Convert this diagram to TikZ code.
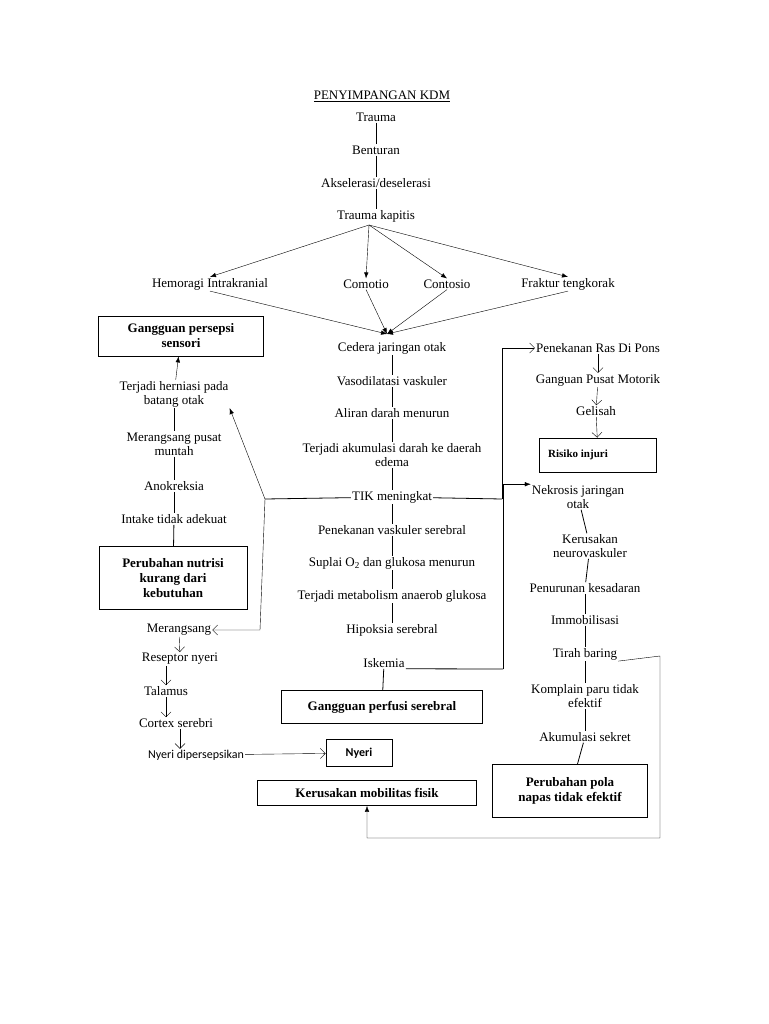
\documentclass[tikz,border=0pt]{standalone}
\usepackage{fontspec}
\setmainfont{Liberation Serif}
\newfontfamily\sansf{Carlito}
\usetikzlibrary{arrows.meta,positioning}
\tikzset{
  txt/.style={font=\fontsize{13}{14}\selectfont, inner sep=1pt, align=center},
  box/.style={draw, thick, font=\bfseries\fontsize{13}{15}\selectfont, align=center, inner sep=2pt},
  ln/.style={thick},
  ar/.style={-{Straight Barb[length=5pt]}},
  fa/.style={-{Latex[length=6pt]}}
}
\begin{document}
\begin{tikzpicture}[x=1pt, y=-1pt]
    \useasboundingbox (0,0) rectangle (768,1024);
    \node[txt] (title) at (382,96) {\underline{PENYIMPANGAN KDM}};
    % top chain
    \node[txt] (trauma) at (376,117) {Trauma};
    \node[txt] (bentur) at (376,150) {Benturan};
    \node[txt] (aksel) at (376,183) {Akselerasi/deselerasi};
    \node[txt] (kapitis) at (376,216) {Trauma kapitis};
    \draw[ln] (trauma) -- (bentur);
    \draw[ln] (bentur) -- (aksel);
    \draw[ln] (aksel) -- (kapitis);
    \node[txt] (hemo) at (210,284) {Hemoragi Intrakranial};
    \node[txt] (comotio) at (366,284) {Comotio};
    \node[txt] (contosio) at (447,284) {Contosio};
    \node[txt] (fraktur) at (568,284) {Fraktur tengkorak};
    \coordinate (split) at (369,225);
    \draw[fa] (split) -- (hemo.north);
    \draw[fa] (split) -- (comotio.north);
    \draw[fa] (split) -- (contosio.north);
    \draw[fa] (split) -- (fraktur.north);
    \coordinate (merge) at (387,334);
    \draw[fa] (hemo.south) -- (merge);
    \draw[fa] (comotio.south) -- (merge);
    \draw[fa] (contosio.south) -- (merge);
    \draw[fa] (fraktur.south) -- (merge);
    % middle column
    \node[txt] (cedera) at (392,348) {Cedera jaringan otak};
    \node[txt] (vaso) at (392,381) {Vasodilatasi vaskuler};
    \node[txt] (aliran) at (392,413) {Aliran darah menurun};
    \node[txt] (akum) at (392,455) {Terjadi akumulasi darah ke daerah\\edema};
    \node[txt] (tik) at (392,497) {TIK meningkat};
    \node[txt] (penvask) at (392,530) {Penekanan vaskuler serebral};
    \node[txt] (suplai) at (392,563) {Suplai O\textsubscript{2} dan glukosa menurun};
    \node[txt] (metab) at (392,596) {Terjadi metabolism anaerob glukosa};
    \node[txt] (hipoksia) at (392,630) {Hipoksia serebral};
    \node[txt] (iskemia) at (384,663) {Iskemia};
    \node[box, minimum width=201pt, minimum height=33pt] (perfusi) at (382,707) {Gangguan perfusi serebral};
    \draw[ln] (cedera) -- (vaso);
    \draw[ln] (vaso) -- (aliran);
    \draw[ln] (aliran) -- (akum);
    \draw[ln] (akum) -- (tik);
    \draw[ln] (tik) -- (penvask);
    \draw[ln] (penvask) -- (suplai);
    \draw[ln] (suplai) -- (metab);
    \draw[ln] (metab) -- (hipoksia);
    \draw[ln] (iskemia) -- (perfusi);
    % left column
    \node[box, minimum width=165pt, minimum height=40pt] (persepsi) at (181,336) {Gangguan persepsi\\sensori};
    \node[txt] (hernia) at (174,394) {Terjadi herniasi pada\\batang otak};
    \node[txt] (muntah) at (174,444) {Merangsang pusat\\muntah};
    \node[txt] (anok) at (174,486) {Anokreksia};
    \node[txt] (intake) at (174,519) {Intake tidak adekuat};
    \node[box, minimum width=148pt, minimum height=63pt] (nutrisi) at (173,578) {Perubahan nutrisi\\kurang dari\\kebutuhan};
    \draw[fa] (hernia) -- (persepsi);
    \draw[ln] (hernia) -- (muntah);
    \draw[ln] (muntah) -- (anok);
    \draw[ln] (anok) -- (intake);
    \draw[ln] (intake) -- (nutrisi);
    \node[txt] (rangsang) at (179,630) {Merangsang};
    \node[txt] (reseptor) at (180,659) {Reseptor nyeri};
    \node[txt] (talamus) at (166,691) {Talamus};
    \node[txt] (cortex) at (176,723) {Cortex serebri};
    \node[txt, font=\sansf\fontsize{12}{14}\selectfont] (dipers) at (196,755) {Nyeri dipersepsikan};
    \node[box, font=\sansf\bfseries\fontsize{12}{14}\selectfont, minimum width=66pt, minimum height=27pt] (nyeri) at (359,753) {Nyeri};
    \node[box, minimum width=219pt, minimum height=25pt] (mobil) at (367,793) {Kerusakan mobilitas fisik};
    \draw[ar] (rangsang) -- (reseptor);
    \draw[ar] (reseptor.south -| talamus) -- (talamus);
    \draw[ar] (talamus.south) -- (cortex.north -| talamus.south);
    \draw[ar] (cortex.south -| dipers.north) ++(-16,0) -- ++(0,20);
    \draw[ar] (dipers) -- (nyeri);
    % TIK branches
    \coordinate (tikl) at (265,499);
    \coordinate (tikr) at (502,499);
    \draw[ln] (tik) -- (tikl);
    \draw[fa] (tikl) -- (hernia.south east);
    \draw[ar] (tikl) -- (260,630) -- (rangsang);
    % right column
    \node[txt] (ras) at (598,348) {Penekanan Ras Di Pons};
    \node[txt] (motorik) at (598,380) {Ganguan Pusat Motorik};
    \node[txt] (gelisah) at (596,411) {Gelisah};
    \node[box, font=\bfseries\fontsize{11}{13}\selectfont, minimum width=117pt, minimum height=34pt] (injuri) at (598,455) {Risiko injuri\hspace*{40pt}};
    \draw[ln] (tik) -- (tikr);
    \draw[ar] (tikr) |- (ras);
    \draw[ar] (ras) -- (motorik);
    \draw[ar] (motorik) -- (gelisah);
    \draw[ar] (gelisah) -- (injuri);
    \node[txt] (nekrosis) at (578,497) {Nekrosis jaringan\\otak};
    \node[txt] (neuro) at (590,546) {Kerusakan\\neurovaskuler};
    \node[txt] (sadar) at (585,588) {Penurunan kesadaran};
    \node[txt] (immo) at (585,620) {Immobilisasi};
    \node[txt] (tirah) at (585,654) {Tirah baring};
    \node[txt] (paru) at (585,696) {Komplain paru tidak\\efektif};
    \node[txt] (sekret) at (585,737) {Akumulasi sekret};
    \node[box, minimum width=155pt, minimum height=53pt] (napas) at (570,791) {Perubahan pola\\napas tidak efektif};
    \coordinate (isk) at (503,669);
    \draw[ln] (iskemia.south east) -- (isk);
    \draw[fa] (isk) |- (nekrosis.north west);
    \draw[ln] (nekrosis) -- (neuro);
    \draw[ln] (neuro) -- (sadar);
    \draw[ln] (sadar) -- (immo);
    \draw[ln] (immo) -- (tirah);
    \draw[ln] (tirah) -- (paru);
    \draw[ln] (paru) -- (sekret);
    \draw[ln] (sekret) -- (napas);
    \coordinate (tr) at (660,656);
    \draw[fa] (tirah.south east) -- (tr) -- (660,838) -| (mobil.south);
\end{tikzpicture}
\end{document}
